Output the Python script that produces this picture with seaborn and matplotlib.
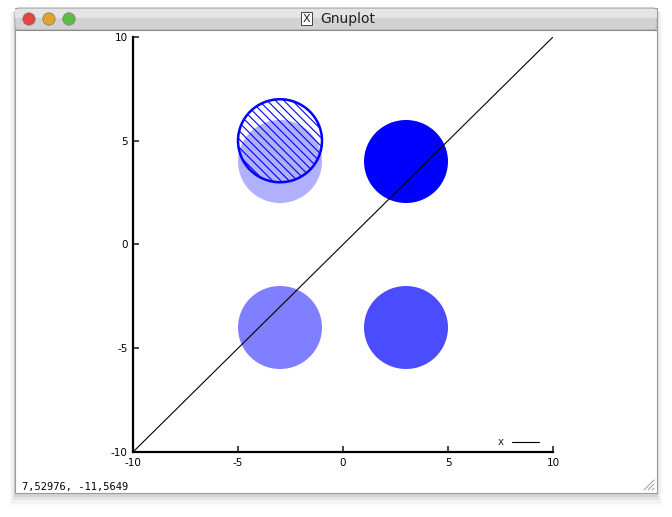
import matplotlib
matplotlib.use("Agg")
import matplotlib.pyplot as plt
import seaborn as sns
from matplotlib.patches import Circle, Rectangle, FancyBboxPatch

sns.set_style("ticks")
plt.rcParams['font.family'] = ['DejaVu Sans']
plt.rcParams['hatch.linewidth'] = 0.8
plt.rcParams['axes.unicode_minus'] = False

# circles drawn in the plot
circle_x = [-3, 3, -3, 3]
circle_y = [4, 4, -4, -4]
circle_alpha = [0.31, 1.0, 0.5, 0.7]
circle_r = 2

hatch_x = -3
hatch_y = 5

# the "x" function line
line_x = [-10, 10]
line_y = [-10, 10]

ticks = [-10, -5, 0, 5, 10]

fig = plt.figure(figsize=(6.72, 5.17), dpi=100)
fig.patch.set_facecolor('white')

# window chrome, in pixel coordinates
bg = fig.add_axes([0, 0, 1, 1])
bg.set_xlim(0, 672)
bg.set_ylim(517, 0)
bg.axis('off')
# soft shadow, mostly below the window
for i, a in enumerate([0.02, 0.03, 0.05, 0.07, 0.1]):
    d = 8 - 2 * i
    bg.add_patch(Rectangle((15 - d * 0.6, 12), 642 + 1.2 * d, 481 + d * 1.8,
                           facecolor='black', alpha=a, edgecolor='none'))
bg.add_patch(Rectangle((15, 8), 642, 485, facecolor='white', edgecolor='#9a9a9a', lw=0.8))
bg.add_patch(FancyBboxPatch((15, 8), 642, 22, boxstyle="round,pad=0,rounding_size=4",
                            facecolor='#d2d2d2', edgecolor='#a0a0a0', lw=0.6))
bg.add_patch(Rectangle((15.4, 9), 641.2, 9, facecolor='#e4e4e4', edgecolor='none'))
bg.plot([15, 657], [30, 30], color='#8c8c8c', lw=0.8)
for cx, col in zip([29, 49, 69], ['#e2463f', '#e0a428', '#5fbb46']):
    bg.add_patch(Circle((cx, 19), 6.2, facecolor=col, edgecolor='#7a7a7a', lw=0.5))
bg.add_patch(Rectangle((301, 12), 11, 13, facecolor='white', edgecolor='#444444', lw=0.7))
bg.text(306.5, 18.8, 'X', ha='center', va='center', fontsize=8, color='#222222')
bg.text(320, 19, 'Gnuplot', ha='left', va='center', fontsize=10, color='#222222')
bg.text(22, 487, '7,52976, -11,5649', ha='left', va='center', fontsize=7.5,
        family='DejaVu Sans Mono', color='black')
for k in range(3):
    o = 4 * k
    bg.plot([644 + o, 654], [490, 480 + o], color='#9a9a9a', lw=0.7)

# plot area
ax = fig.add_axes([133 / 672, 1 - 452 / 517, 420 / 672, 415 / 517])
ax.set_facecolor('none')
for cx, cy, a in zip(circle_x, circle_y, circle_alpha):
    ax.add_patch(Circle((cx, cy), circle_r, facecolor='#0000ff', alpha=a,
                        edgecolor='none', zorder=1))
ax.add_patch(Circle((hatch_x, hatch_y), circle_r, facecolor='none', edgecolor='#0000ff',
                    hatch='\\\\\\\\', lw=1.8, zorder=2))

sns.lineplot(x=line_x, y=line_y, ax=ax, color='black', lw=0.8, label='x', zorder=3)

ax.set_xlim(-10, 10)
ax.set_ylim(-10, 10)
ax.set_xticks(ticks)
ax.set_yticks(ticks)
ax.tick_params(direction='in', length=4, width=1.2, labelsize=7.5, pad=4,
               labelcolor='black')
for s in ['top', 'right']:
    ax.spines[s].set_visible(False)
for s in ['left', 'bottom']:
    ax.spines[s].set_linewidth(1.6)
    ax.spines[s].set_color('black')

leg = ax.legend(loc='lower right', bbox_to_anchor=(0.985, -0.006), frameon=False,
                fontsize=7.5, handlelength=2.6, handletextpad=0.8,
                markerfirst=False, borderaxespad=0.3)

fig.savefig('out.png', dpi=100)
